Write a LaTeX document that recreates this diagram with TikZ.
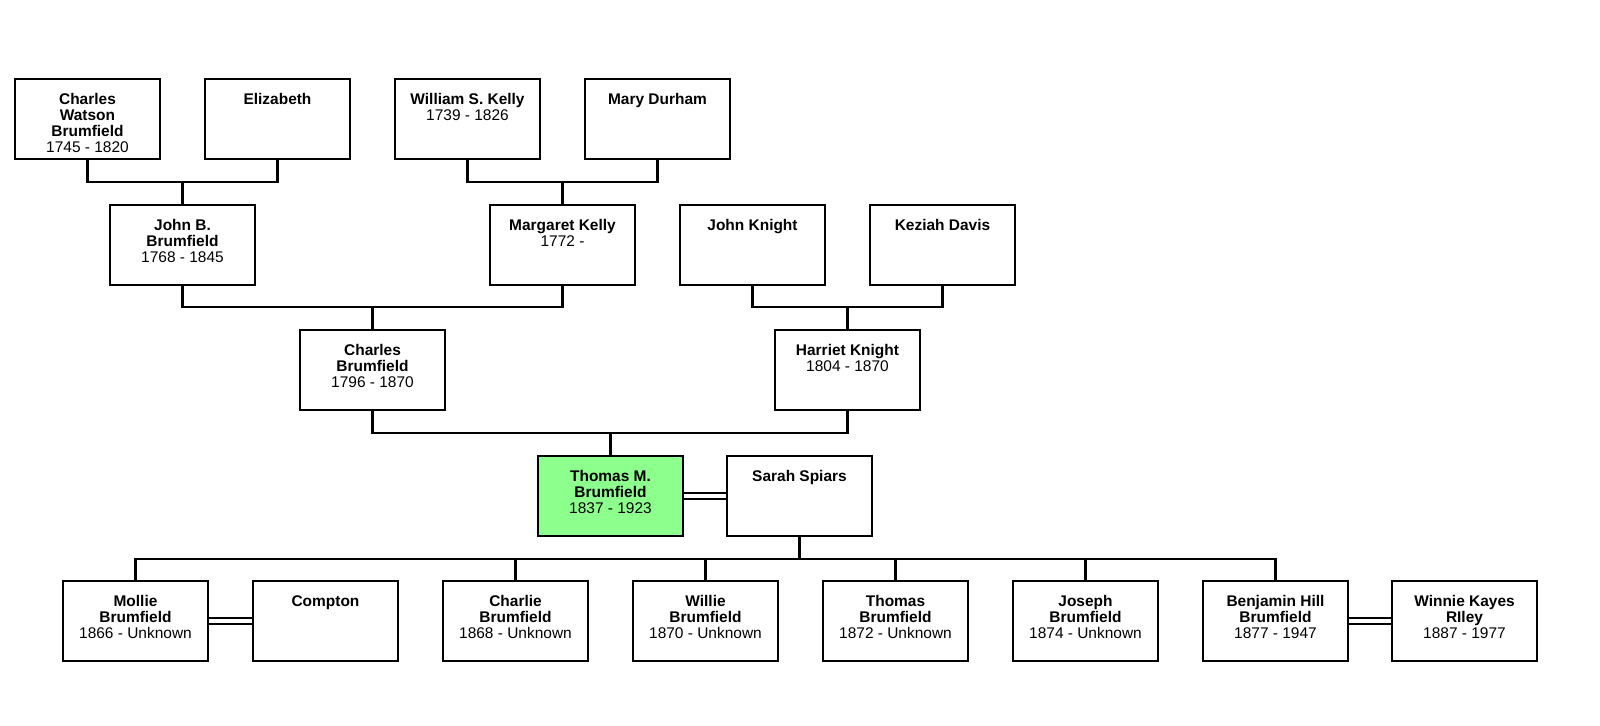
\documentclass[tikz,border=0pt]{standalone}
\usepackage{fontspec}
\setmainfont{Liberation Sans}
\usetikzlibrary{positioning}

\tikzset{
  person/.style={draw, line width=1.3pt, inner sep=0pt, minimum width=2.9cm, minimum height=1.6cm, fill=white},
  link/.style={line width=1.3pt},
  wed/.style={line width=1.1pt, double, double distance=2.2pt}
}
\newcommand{\who}[2]{\begin{minipage}[t][1.55cm][t]{2.8cm}\centering\fontsize{8.8}{9.1}\selectfont\vspace*{0.27cm}\textbf{#1}\\#2\end{minipage}}

\begin{document}
\begin{tikzpicture}[x=0.02cm,y=-0.02cm]
\useasboundingbox (0,0) rectangle (1600,725);

% generation 1
\foreach \nm/\px/\py/\name/\dates in {
  cwb/87.5/119/{Charles\\Watson\\Brumfield}/{1745 - 1820},
  eliz/277.5/119/{Elizabeth}/{},
  wsk/467.5/119/{William S. Kelly}/{1739 - 1826},
  md/657.5/119/{Mary Durham}/{},
  jbb/182.5/245/{John B.\\Brumfield}/{1768 - 1845},
  mk/562.5/245/{Margaret Kelly}/{1772 -},
  jk/752.5/245/{John Knight}/{},
  kd/942.5/245/{Keziah Davis}/{},
  cb/372.5/370/{Charles\\Brumfield}/{1796 - 1870},
  hk/847.5/370/{Harriet Knight}/{1804 - 1870},
  ss/799.5/496/{Sarah Spiars}/{},
  mb/135.5/621/{Mollie\\Brumfield}/{1866 - Unknown},
  cmp/325.5/621/{Compton}/{},
  chb/515.5/621/{Charlie\\Brumfield}/{1868 - Unknown},
  wb/705.5/621/{Willie\\Brumfield}/{1870 - Unknown},
  tb/895.5/621/{Thomas\\Brumfield}/{1872 - Unknown},
  jb/1085.5/621/{Joseph\\Brumfield}/{1874 - Unknown},
  bhb/1275.5/621/{Benjamin Hill\\Brumfield}/{1877 - 1947},
  wkr/1464.5/621/{Winnie Kayes\\RIley}/{1887 - 1977}}
  \node[person] (\nm) at (\px,\py) {\who{\name}{\dates}};

\node[person, fill=green!45!white] (tmb) at (610.5,496) {\who{Thomas M.\\Brumfield}{1837 - 1923}};

% couples to children
\draw[link] (cwb.south) |- (182.5,182) -| (eliz.south) (182.5,182) -- (jbb.north);
\draw[link] (wsk.south) |- (562.5,182) -| (md.south) (562.5,182) -- (mk.north);
\draw[link] (jbb.south) |- (372.5,307) -| (mk.south) (372.5,307) -- (cb.north);
\draw[link] (jk.south) |- (847.5,307) -| (kd.south) (847.5,307) -- (hk.north);
\draw[link] (cb.south) |- (610.5,433) -| (hk.south) (610.5,433) -- (tmb.north);

% marriages
\draw[wed] (tmb.east) -- (ss.west);
\draw[wed] (mb.east) -- (cmp.west);
\draw[wed] (bhb.east) -- (wkr.west);

% children
\draw[link] (ss.south) -- (799.5,559);
\draw[link] (mb.north) |- (bhb.north |- 0,559) -- (bhb.north);
\foreach \c in {chb,wb,tb,jb}
  \draw[link] (\c.north) -- (\c.north |- 0,559);
\end{tikzpicture}
\end{document}
